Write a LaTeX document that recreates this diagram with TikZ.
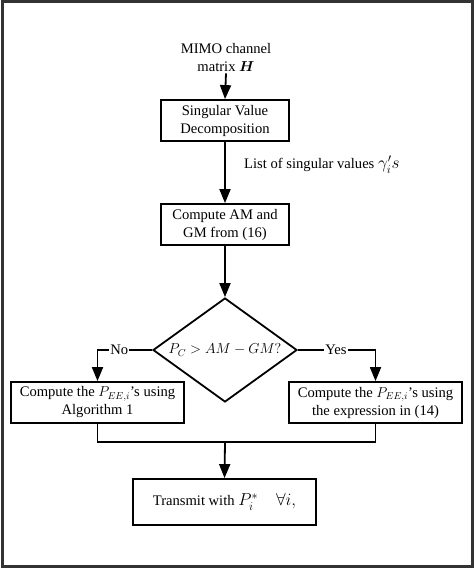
\documentclass[tikz,border=0pt]{standalone}
\usepackage{fontspec}
\setmainfont{Liberation Serif}
\usepackage{bm}
\usetikzlibrary{shapes.geometric,arrows.meta}
\begin{document}
\begin{tikzpicture}[x=1pt,y=-1pt,
  font=\fontsize{14.6}{18}\selectfont,
  box/.style={draw,line width=1.8pt,inner sep=0pt,align=center},
  arr/.style={line width=1.8pt,-{Triangle[length=14pt,width=11pt]}},
  ln/.style={line width=1.8pt},
  lbl/.style={fill=white,inner sep=1pt}]
\useasboundingbox (0,0) rectangle (474,569);
\draw[line width=3pt,black!80] (2,2) rectangle (472,566);
\node[align=center,inner sep=1pt] (in) at (226,58) {MIMO channel\\matrix $\bm{H}$};
\node[box,minimum width=128pt,minimum height=41pt] (svd) at (225,120.5) {Singular Value\\Decomposition};
\node[box,minimum width=128pt,minimum height=41pt] (am) at (225,224.5) {Compute AM and\\GM from (16)};
\node[draw,diamond,aspect=1.385,line width=1.8pt,minimum width=144pt,minimum height=104pt,inner sep=0pt] (dec) at (225,350) {$P_C > AM - GM?$};
\node[box,minimum width=173pt,minimum height=41pt] (L) at (97.5,402.5) {Compute the $P_{EE,i}$'s using\\Algorithm 1};
\node[box,minimum width=173pt,minimum height=41pt] (R) at (375.5,402.5) {Compute the $P_{EE,i}$'s using\\the expression in (14)};
\node[box,minimum width=183pt,minimum height=46pt] (tx) at (224.5,502) {Transmit with {\fontsize{18}{18}\selectfont$P_i^*\quad\forall i,$}};
\coordinate (j) at (225,442);
\draw[arr] (in.south) -- (svd.north);
\draw[arr] (svd.south) -- node[right=15pt,pos=0.37] (lst) {List of singular values {\fontsize{18}{18}\selectfont$\gamma_i' s$}} (am.north);
\draw[arr] (am.south) -- (dec.north);
\draw[arr] (dec.west) -| node[lbl,pos=0.3] (no) {No} (L.north);
\draw[arr] (dec.east) -| node[lbl,pos=0.245] (yes) {Yes} (R.north);
\draw[ln] (L.south) -- (L.south |- j) -- (R.south |- j) -- (R.south);
\draw[arr] (j) -- (tx.north);
\end{tikzpicture}
\end{document}
